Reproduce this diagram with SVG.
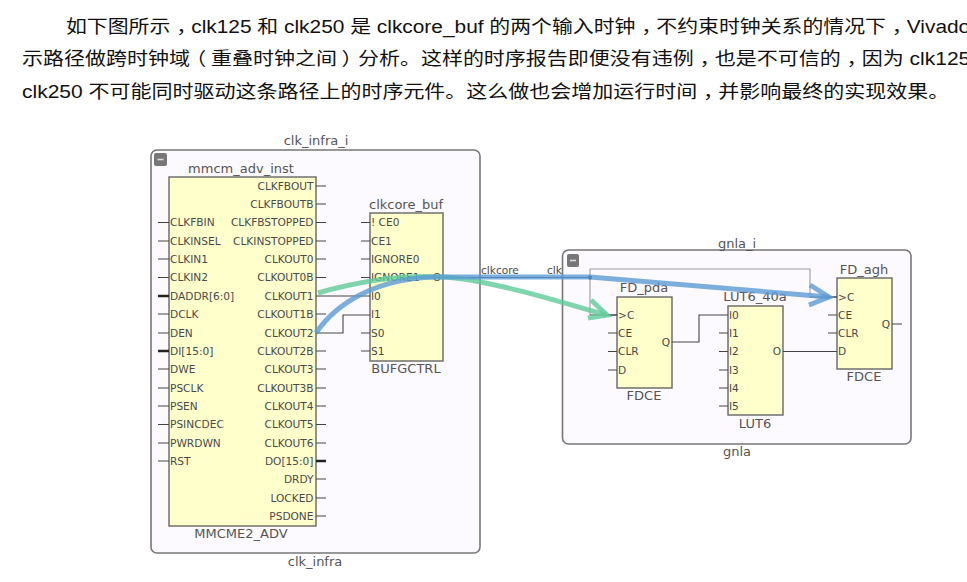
<svg xmlns="http://www.w3.org/2000/svg" width="967" height="582" viewBox="0 0 967 582">
<style>
.para{font-family:"Liberation Sans","Noto Sans CJK SC",sans-serif;font-size:18px;fill:#111}
text{font-family:"DejaVu Sans",sans-serif;fill:#4a4a4a}
.p{font-size:10.6px}
.r{text-anchor:end}
.n{font-size:13px;text-anchor:middle;fill:#555}
.group{fill:#fdfaff;stroke:#777;stroke-width:1.6}
.block{fill:#ffffcc;stroke:#666;stroke-width:1.4}
.btn{fill:#777}
.pin{stroke:#444;stroke-width:1;fill:none}
.bus{stroke:#222;stroke-width:2.4;fill:none}
.wire{stroke:#444;stroke-width:1.1;fill:none}
.net{stroke:#a098a4;stroke-width:1.1;fill:none}
.hl{fill:none;stroke-width:5;stroke-linecap:butt}
.minus{stroke:#ddd;stroke-width:1.6}
</style>
<g id="paragraph">
<text class="para" transform="translate(66 33) scale(1.16 1)">如下图所示<tspan dx="5">，</tspan><tspan dx="-5">clk125 和 clk250 是 clkcore_buf 的两个输入时钟</tspan><tspan dx="5">，</tspan><tspan dx="-5">不约束时钟关系的情况下</tspan><tspan dx="5">，</tspan><tspan dx="-5">Vivado</tspan></text>
<text class="para" transform="translate(22 65) scale(1.167 1)">示路径做跨时钟域<tspan dx="-4">（</tspan><tspan dx="4">重叠时钟之间</tspan><tspan dx="4">）</tspan><tspan dx="-4">分析。这样的时序报告即便没有违例</tspan><tspan dx="5">，</tspan><tspan dx="-5">也是不可信的</tspan><tspan dx="5">，</tspan><tspan dx="-5">因为 clk125</tspan></text>
<text class="para" transform="translate(22 98) scale(1.167 1)">clk250 不可能同时驱动这条路径上的时序元件。这么做也会增加运行时间<tspan dx="5">，</tspan><tspan dx="-5">并影响最终的实现效果。</tspan></text>
</g>
<g id="clk_infra_i">
<rect class="group" x="151" y="150" width="329" height="403" rx="6"/>
<rect class="btn" x="154" y="153" width="13" height="13" rx="2"/><path class="minus" d="M157.500 159.500H163.500"/>
<text class="n" x="316" y="145">clk_infra_i</text>
<text class="n" x="315" y="566">clk_infra</text>
</g>
<g id="gnla_i">
<rect class="group" x="562.500" y="250" width="348.500" height="194" rx="6"/>
<rect class="btn" x="567" y="254" width="12" height="13" rx="2"/><path class="minus" d="M570 260.500H576"/>
<text class="n" x="737" y="248">gnla_i</text>
<text class="n" x="737" y="456">gnla</text>
</g>
<g id="mmcm_adv_inst">
<rect class="block" x="169" y="177" width="147" height="349"/>
<text class="n" x="241" y="173">mmcm_adv_inst</text>
<text class="n" x="241" y="538">MMCME2_ADV</text>
<path class="pin" d="M158 222.500H169M158 241H169M158 259H169M158 277.500H169M158 314H169M158 333H169M158 369H169M158 388H169M158 406H169M158 424.500H169M158 443H169M158 461H169"/>
<path class="bus" d="M158 296H169M158 351H169M316 461H326"/>
<path class="pin" d="M316 186H326M316 204H326M316 222.500H326M316 241H326M316 259H326M316 277.500H326M316 314H326M316 351H326M316 369H326M316 388H326M316 406H326M316 424.500H326M316 443H326M316 479H326M316 498H326M316 516H326"/>
<g class="p">
<text x="170" y="226">CLKFBIN</text><text x="170" y="245">CLKINSEL</text><text x="170" y="263">CLKIN1</text><text x="170" y="281">CLKIN2</text><text x="170" y="300">DADDR[6:0]</text><text x="170" y="318">DCLK</text><text x="170" y="337">DEN</text><text x="170" y="355">DI[15:0]</text><text x="170" y="373">DWE</text><text x="170" y="392">PSCLK</text><text x="170" y="410">PSEN</text><text x="170" y="428">PSINCDEC</text><text x="170" y="447">PWRDWN</text><text x="170" y="465">RST</text>
</g>
<g class="p r">
<text x="313.500" y="190">CLKFBOUT</text><text x="313.500" y="208">CLKFBOUTB</text><text x="313.500" y="226">CLKFBSTOPPED</text><text x="313.500" y="245">CLKINSTOPPED</text><text x="313.500" y="263">CLKOUT0</text><text x="313.500" y="281">CLKOUT0B</text><text x="313.500" y="300">CLKOUT1</text><text x="313.500" y="318">CLKOUT1B</text><text x="313.500" y="337">CLKOUT2</text><text x="313.500" y="355">CLKOUT2B</text><text x="313.500" y="373">CLKOUT3</text><text x="313.500" y="392">CLKOUT3B</text><text x="313.500" y="410">CLKOUT4</text><text x="313.500" y="428">CLKOUT5</text><text x="313.500" y="447">CLKOUT6</text><text x="313.500" y="465">DO[15:0]</text><text x="313.500" y="483">DRDY</text><text x="313.500" y="502">LOCKED</text><text x="313.500" y="520">PSDONE</text>
</g>
</g>
<g id="clkcore_buf">
<rect class="block" x="370" y="213" width="73" height="148"/>
<text class="n" x="406" y="209">clkcore_buf</text>
<text class="n" x="406" y="373">BUFGCTRL</text>
<path class="pin" d="M361 222.500H370M361 241H370M361 259H370M361 277.500H370M361 333H370M361 351H370"/>
<g class="p">
<text x="371" y="226">! CE0</text><text x="371" y="245">CE1</text><text x="371" y="263">IGNORE0</text><text x="371" y="281">IGNORE1</text><text x="371" y="300">I0</text><text x="371" y="318">I1</text><text x="371" y="337">S0</text><text x="371" y="355">S1</text>
<text class="r" x="441" y="281">O</text>
</g>
</g>
<g id="FD_pda">
<rect class="block" x="617" y="297" width="55" height="91"/>
<text class="n" x="644" y="292">FD_pda</text>
<text class="n" x="644" y="400">FDCE</text>
<path class="pin" d="M608 315H617M608 333H617M608 351.500H617M608 370H617"/>
<g class="p"><text x="618" y="319">&gt;C</text><text x="618" y="337">CE</text><text x="618" y="355">CLR</text><text x="618" y="374">D</text><text class="r" x="670" y="346">Q</text></g>
</g>
<g id="LUT6_40a">
<rect class="block" x="728" y="306" width="55" height="109"/>
<text class="n" x="755" y="301">LUT6_40a</text>
<text class="n" x="755" y="428">LUT6</text>
<path class="pin" d="M719 333H728M719 351.500H728M719 370H728M719 388H728M719 406H728"/>
<g class="p"><text x="729" y="319">I0</text><text x="729" y="337">I1</text><text x="729" y="355">I2</text><text x="729" y="374">I3</text><text x="729" y="392">I4</text><text x="729" y="410">I5</text><text class="r" x="781" y="355">O</text></g>
</g>
<g id="FD_agh">
<rect class="block" x="837" y="278" width="55" height="91"/>
<text class="n" x="864" y="274">FD_agh</text>
<text class="n" x="864" y="381">FDCE</text>
<path class="pin" d="M828 297H837M828 315H837M828 333H837M892 324H902"/>
<g class="p"><text x="838" y="301">&gt;C</text><text x="838" y="319">CE</text><text x="838" y="337">CLR</text><text x="838" y="355">D</text><text class="r" x="890" y="328">Q</text></g>
</g>
<g id="connectors">
<path class="net" d="M590 315V269H810V297"/>
<path class="wire" d="M316 296H370M316 333H343V315H370M672 342H699V315H728M783 351.500H837M443 277.500H590"/>
<path class="wire" d="M590 315H617M810 297H837"/>
<circle cx="590" cy="277.500" r="2" fill="#123"/>
<text class="p" x="481" y="274">clkcore</text>
<text class="p" x="547" y="274">clk</text>
<path class="hl" stroke="#5fcb9a" stroke-opacity=".8" d="M318 293C370 278 420 272 470 280C520 289 560 302 606 315"/>
<path class="hl" stroke="#5fcb9a" stroke-opacity=".8" d="M591 300L607 315L588 318"/>
<path class="hl" stroke="#5b9bd5" stroke-opacity=".8" d="M316 333C335 305 375 277 440 277H590L829 297"/>
<path class="hl" stroke="#5b9bd5" stroke-opacity=".8" d="M810 285L829 297L809 305"/>
</g>
</svg>
